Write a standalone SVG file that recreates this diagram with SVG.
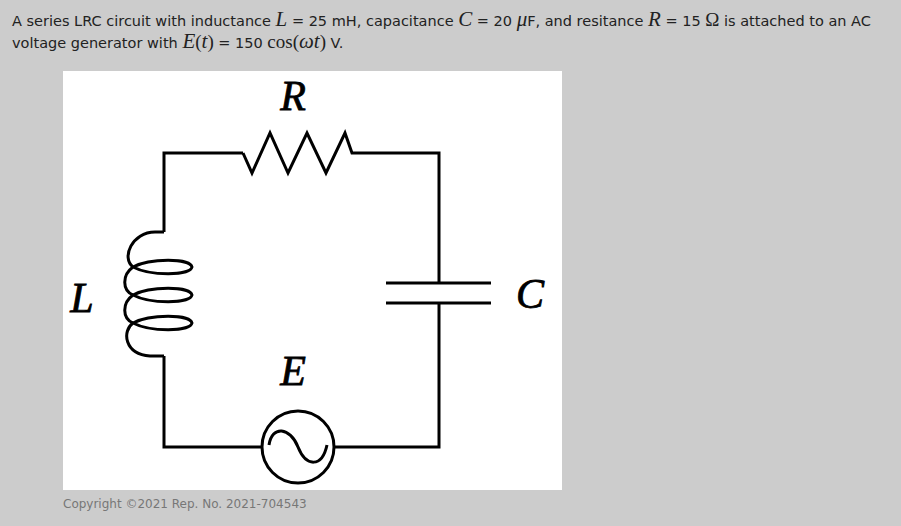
<svg xmlns="http://www.w3.org/2000/svg" width="901" height="526" viewBox="0 0 901 526">
<style>
.hd{font-family:"DejaVu Sans",Verdana,sans-serif;font-size:14.5px;fill:#222}
.m{font-family:"Liberation Serif",serif;font-style:italic;font-size:21px}
.mr{font-family:"Liberation Serif",serif;font-size:19px}
.lbl{font-family:"Liberation Serif",serif;font-style:italic;font-size:42px;fill:#000;stroke:#000;stroke-width:0.8}
.w{fill:none;stroke:#000;stroke-width:3;stroke-linejoin:miter}
</style>
<rect width="901" height="526" fill="#cccccc"/>
<text class="hd" x="12" y="26">A series LRC circuit with inductance <tspan class="m">L</tspan> = 25 mH, capacitance <tspan class="m">C</tspan> = 20 <tspan class="m">μ</tspan>F, and resitance <tspan class="m">R</tspan> = 15 <tspan class="mr">Ω</tspan> is attached to an AC</text>
<text class="hd" x="12" y="48">voltage generator with <tspan class="m">E</tspan><tspan class="mr">(</tspan><tspan class="m">t</tspan><tspan class="mr">)</tspan> = 150 <tspan class="mr">cos(</tspan><tspan class="m">ωt</tspan><tspan class="mr">)</tspan> V.</text>
<rect x="63" y="71" width="499" height="419" fill="#fff"/>
<g id="connectors">
<path class="w" d="M164,232 V153 H243"/>
<path class="w" d="M355,153 H439 V283"/>
<path class="w" d="M439,303 V447 H335"/>
<path class="w" d="M262,447 H164 V356"/>
</g>
<g id="R">
<path class="w" d="M243,153 L252,173 L270,133 L288,173 L307,133 L326,173 L345,133 L352,153 L355,153"/>
<text class="lbl" x="293" y="110" text-anchor="middle">R</text>
</g>
<g id="L">
<path class="w" d="M164,232 L155,232 C132,232 121,258 133,267 C150,258 190,258 192,267 C190,276 150,276 133,267 C122,275 122,290 133,295 C150,286 190,286 192,295 C190,304 150,304 133,295 C122,303 122,318 133,323 C150,314 190,314 192,323 C190,332 150,332 133,323 C122,331 124,354 150,356 L164,356"/>
<text class="lbl" x="82" y="312" text-anchor="middle">L</text>
</g>
<g id="C">
<path class="w" d="M386,283 H491 M386,303 H491"/>
<text class="lbl" x="530" y="308" text-anchor="middle">C</text>
</g>
<g id="E">
<circle cx="298" cy="447" r="36" fill="#fff" stroke="#000" stroke-width="3"/>
<path class="w" d="M269,445 C272,425 290,427 298,447 C306,467 322,468 327,445"/>
<text class="lbl" x="293" y="385" text-anchor="middle">E</text>
</g>
<text x="63" y="508" font-family="DejaVu Sans,sans-serif" font-size="12" fill="#777">Copyright ©2021 Rep. No. 2021-704543</text>
</svg>
